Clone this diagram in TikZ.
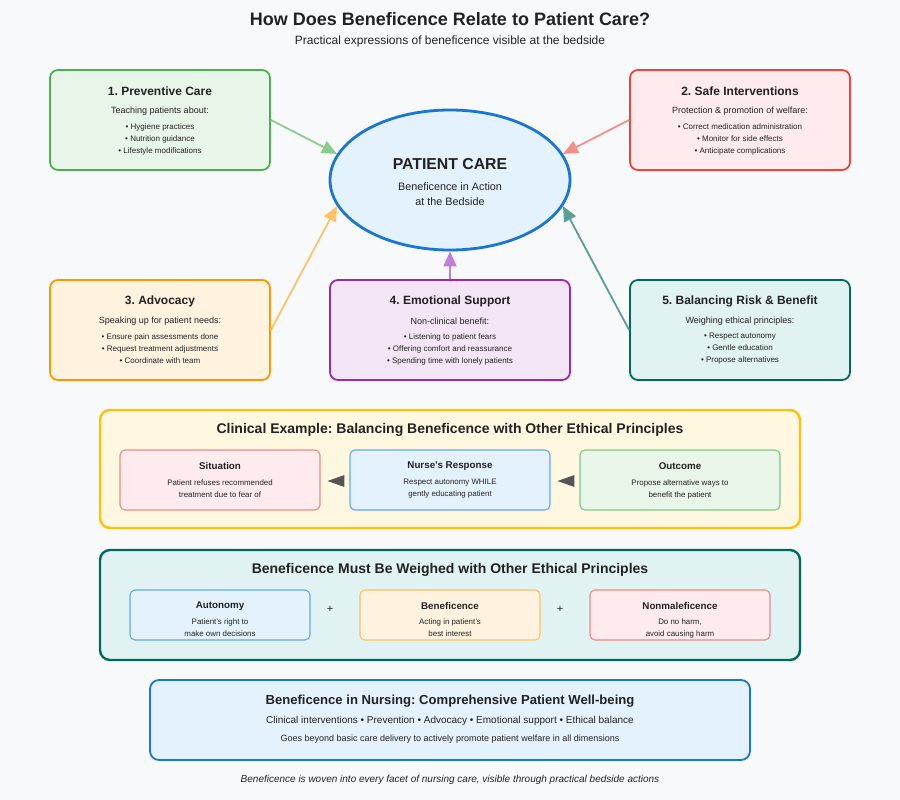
\documentclass[tikz,border=0pt]{standalone}
\usepackage{fontspec}
\setmainfont{Liberation Sans}
\usetikzlibrary{arrows.meta,shapes.geometric,calc}
\definecolor{bg}{HTML}{F8F9FA}
\definecolor{txt}{HTML}{222222}
\definecolor{gB}{HTML}{4CAF50}\definecolor{gF}{HTML}{E8F5E9}
\definecolor{rB}{HTML}{F44336}\definecolor{rF}{HTML}{FFEBEE}
\definecolor{oB}{HTML}{FF9800}\definecolor{oF}{HTML}{FFF3E0}
\definecolor{pB}{HTML}{9C27B0}\definecolor{pF}{HTML}{F3E5F5}
\definecolor{tB}{HTML}{00695C}\definecolor{tF}{HTML}{E0F2F1}
\definecolor{bB}{HTML}{1976D2}\definecolor{bF}{HTML}{E3F2FD}
\definecolor{yB}{HTML}{FFC107}\definecolor{yF}{HTML}{FFF8E1}
\definecolor{aG}{HTML}{8DCB90}\definecolor{aR}{HTML}{F28F86}
\definecolor{aO}{HTML}{FFC266}\definecolor{aP}{HTML}{C47DD6}
\definecolor{aT}{HTML}{5A9F94}
\definecolor{lR}{HTML}{EF8A80}\definecolor{lB}{HTML}{64A8E8}
\definecolor{lG}{HTML}{81C784}\definecolor{lO}{HTML}{FFC061}
\definecolor{triC}{HTML}{555555}
\newcommand\fsz[2]{\fontsize{#1}{#2}\selectfont}
\frenchspacing
\begin{document}
\begin{tikzpicture}[x=1pt,y=-1pt,
  every node/.style={text=txt},
  card/.style={draw, rounded corners=8pt, line width=1.8pt, minimum width=220pt, minimum height=100pt, inner sep=0pt},
  panel/.style={draw, rounded corners=10pt, line width=2.4pt, minimum width=700pt, inner sep=0pt},
  inbox/.style={draw, rounded corners=5pt, line width=1.1pt, inner sep=0pt},
  ttl/.style={font=\fsz{12}{14}\bfseries},
  sub/.style={font=\fsz{9}{11}},
  bul/.style={font=\fsz{8}{12}, align=center},
  ptl/.style={font=\fsz{14}{16}\bfseries},
  itl/.style={font=\fsz{9.8}{11}\bfseries},
  itx/.style={font=\fsz{7.9}{12}, align=center},
  arr/.style={line width=1.8pt, -{Triangle[length=15pt,width=13pt]}},
  ]
\fill[bg] (0,0) rectangle (900,800);
\useasboundingbox (0,0) rectangle (900,800);

% title
\node[font=\fsz{18}{21}\bfseries] (title) at (450,19) {How Does Beneficence Relate to Patient Care?};
\node[font=\fsz{12}{14}] (subtitle) at (450,41) {Practical expressions of beneficence visible at the bedside};

% central ellipse
\node[ellipse, draw=bB, fill=bF, line width=2.8pt, minimum width=240pt, minimum height=140pt, inner sep=0pt] (pc) at (450,180) {};
\node[font=\fsz{15.8}{18}\bfseries] (pct) at (450,164) {PATIENT CARE};
\node[font=\fsz{10.8}{15}, align=center] (pcs) at (450,194) {Beneficence in Action\\at the Bedside};

% box 1
\node[card, draw=gB, fill=gF] (b1) at (160,120) {};
\node[ttl] (b1t) at (160,91) {1. Preventive Care};
\node[sub] (b1s) at (160,111) {Teaching patients about:};
\node[bul] (b1l) at (160,139) {• Hygiene practices\\• Nutrition guidance\\• Lifestyle modifications};

% box 2
\node[card, draw=rB, fill=rF] (b2) at (740,120) {};
\node[ttl] (b2t) at (740,91) {2. Safe Interventions};
\node[sub] (b2s) at (740,111) {Protection \& promotion of welfare:};
\node[bul] (b2l) at (740,139) {• Correct medication administration\\• Monitor for side effects\\• Anticipate complications};

% box 3
\node[card, draw=oB, fill=oF] (b3) at (160,330) {};
\node[ttl] (b3t) at (160,301) {3. Advocacy};
\node[sub] (b3s) at (160,321) {Speaking up for patient needs:};
\node[bul] (b3l) at (160,349) {• Ensure pain assessments done\\• Request treatment adjustments\\• Coordinate with team};

% box 4
\node[card, draw=pB, fill=pF, minimum width=240pt] (b4) at (450,330) {};
\node[ttl] (b4t) at (450,301) {4. Emotional Support};
\node[sub] (b4s) at (450,321) {Non-clinical benefit:};
\node[bul] (b4l) at (450,349) {• Listening to patient fears\\• Offering comfort and reassurance\\• Spending time with lonely patients};

% box 5
\node[card, draw=tB, fill=tF] (b5) at (740,330) {};
\node[ttl] (b5t) at (740,301) {5. Balancing Risk \& Benefit};
\node[sub] (b5s) at (740,321) {Weighing ethical principles:};
\node[bul] (b5l) at (740,349) {• Respect autonomy\\• Gentle education\\• Propose alternatives};

% arrows
\draw[arr, draw=aG, fill=aG] (b1.east) -- (pc.167);
\draw[arr, draw=aR, fill=aR] (b2.west) -- (pc.13);
\draw[arr, draw=aO, fill=aO] (b3.east) -- (pc.193);
\draw[arr, draw=aP, fill=aP] (b4.north) -- (pc.south);
\draw[arr, draw=aT, fill=aT] (b5.west) -- (pc.-13);

% clinical example
\node[panel, draw=yB, fill=yF, minimum height=118pt] (ce) at (450,469) {};
\node[ptl] (cet) at (450,430) {Clinical Example: Balancing Beneficence with Other Ethical Principles};
\node[inbox, draw=lR, fill=rF, minimum width=200pt, minimum height=60pt] (sit) at (220,480) {};
\node[itl] (sitt) at (220,466) {Situation};
\node[itx] (sitx) at (220,489) {Patient refuses recommended\\treatment due to fear of};
\node[inbox, draw=lB, fill=bF, minimum width=200pt, minimum height=60pt] (nr) at (450,480) {};
\node[itl] (nrt) at (450,466) {Nurse's Response};
\node[itx] (nrx) at (450,489) {Respect autonomy WHILE\\gently educating patient};
\node[inbox, draw=lG, fill=gF, minimum width=200pt, minimum height=60pt] (oc) at (680,480) {};
\node[itl] (oct) at (680,466) {Outcome};
\node[itx] (ocx) at (680,489) {Propose alternative ways to\\benefit the patient};
\fill[triC] ($(sit.east)+(7,1)$) -- ($(nr.west)+(-5,-5)$) -- ($(nr.west)+(-5,7)$) -- cycle;
\fill[triC] ($(nr.east)+(7,1)$) -- ($(oc.west)+(-5,-5)$) -- ($(oc.west)+(-5,7)$) -- cycle;

% weighed principles
\node[panel, draw=tB, fill=tF, minimum height=110pt] (wp) at (450,605) {};
\node[ptl] (wpt) at (450,570) {Beneficence Must Be Weighed with Other Ethical Principles};
\node[inbox, draw=lB, fill=bF, minimum width=180pt, minimum height=50pt] (au) at (220,615) {};
\node[itl] (aut) at (220,606) {Autonomy};
\node[itx] (aux) at (220,628) {Patient's right to\\make own decisions};
\node[font=\fsz{11}{13}] (plus1) at (330,609) {+};
\node[inbox, draw=lO, fill=oF, minimum width=180pt, minimum height=50pt] (be) at (450,615) {};
\node[itl] (bet) at (450,606) {Beneficence};
\node[itx] (bex) at (450,628) {Acting in patient's\\best interest};
\node[font=\fsz{11}{13}] (plus2) at (560,609) {+};
\node[inbox, draw=lR, fill=rF, minimum width=180pt, minimum height=50pt] (nm) at (680,615) {};
\node[itl] (nmt) at (680,606) {Nonmaleficence};
\node[itx] (nmx) at (680,628) {Do no harm,\\avoid causing harm};

% summary
\node[draw=bB, fill=bF, rounded corners=9pt, line width=1.8pt, minimum width=600pt, minimum height=80pt, inner sep=0pt] (sm) at (450,720) {};
\node[font=\fsz{13.1}{15}\bfseries] (smt) at (450,701) {Beneficence in Nursing: Comprehensive Patient Well-being};
\node[font=\fsz{10}{12}] (sm2) at (450,721) {Clinical interventions • Prevention • Advocacy • Emotional support • Ethical balance};
\node[font=\fsz{9}{11}] (sm3) at (450,739) {Goes beyond basic care delivery to actively promote patient welfare in all dimensions};

\node[font=\fsz{10}{12}\itshape] (foot) at (450,780) {Beneficence is woven into every facet of nursing care, visible through practical bedside actions};
\end{tikzpicture}
\end{document}
